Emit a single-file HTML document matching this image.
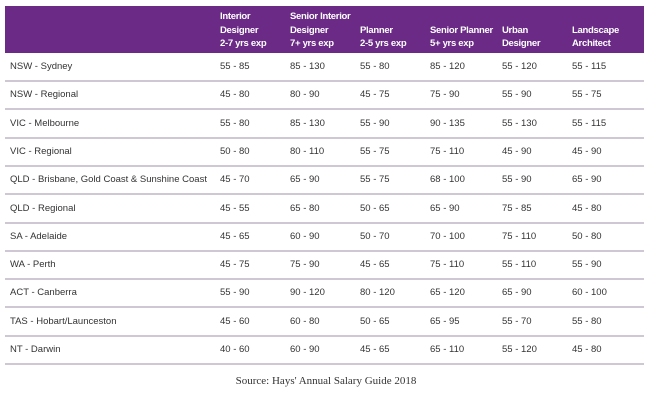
<!DOCTYPE html>
<html><head><meta charset="utf-8"><style>
html,body{margin:0;padding:0;background:#fff;}
body{width:652px;height:401px;position:relative;overflow:hidden;font-family:"Liberation Sans",sans-serif;}
.hdr{position:absolute;left:5px;top:6px;width:639px;height:47px;background:#6a2a86;}
.h{position:absolute;color:#fff;font-weight:bold;font-size:9.5px;line-height:13.5px;letter-spacing:-0.3px;}
.t{position:absolute;color:#333;font-size:9.5px;line-height:12px;}
.sep{position:absolute;left:5px;width:639px;height:2px;background:#cfc8d4;}
.src{position:absolute;left:0;width:652px;top:375px;text-align:center;font-family:"Liberation Serif",serif;font-size:11px;color:#333;}
</style></head><body>
<div class="hdr"></div>
<div class="h" style="left:220px;top:10px">Interior<br>Designer<br>2-7 yrs exp</div>
<div class="h" style="left:290px;top:10px">Senior Interior<br>Designer<br>7+ yrs exp</div>
<div class="h" style="left:360px;top:23.5px">Planner<br>2-5 yrs exp</div>
<div class="h" style="left:430px;top:23.5px">Senior Planner<br>5+ yrs exp</div>
<div class="h" style="left:502px;top:23.5px">Urban<br>Designer</div>
<div class="h" style="left:572px;top:23.5px">Landscape<br>Architect</div>
<div id="rows"></div>
<div class="src">Source: Hays' Annual Salary Guide 2018</div>
<script>
var d=[["NSW - Sydney","55 - 85","85 - 130","55 - 80","85 - 120","55 - 120","55 - 115"],
["NSW - Regional","45 - 80","80 - 90","45 - 75","75 - 90","55 - 90","55 - 75"],
["VIC - Melbourne","55 - 80","85 - 130","55 - 90","90 - 135","55 - 130","55 - 115"],
["VIC - Regional","50 - 80","80 - 110","55 - 75","75 - 110","45 - 90","45 - 90"],
["QLD - Brisbane, Gold Coast & Sunshine Coast","45 - 70","65 - 90","55 - 75","68 - 100","55 - 90","65 - 90"],
["QLD - Regional","45 - 55","65 - 80","50 - 65","65 - 90","75 - 85","45 - 80"],
["SA - Adelaide","45 - 65","60 - 90","50 - 70","70 - 100","75 - 110","50 - 80"],
["WA - Perth","45 - 75","75 - 90","45 - 65","75 - 110","55 - 110","55 - 90"],
["ACT - Canberra","55 - 90","90 - 120","80 - 120","65 - 120","65 - 90","60 - 100"],
["TAS - Hobart/Launceston","45 - 60","60 - 80","50 - 65","65 - 95","55 - 70","55 - 80"],
["NT - Darwin","40 - 60","60 - 90","45 - 65","65 - 110","55 - 120","45 - 80"]];
var xs=[10,220,290,360,430,502,572],h="";
for(var i=0;i<d.length;i++){var y=66+28.3*i;
for(var j=0;j<7;j++)h+='<div class="t" style="left:'+xs[j]+'px;top:'+(y-5)+'px">'+d[i][j].replace("&","&amp;")+'</div>';
h+='<div class="sep" style="top:'+(y+14)+'px"></div>';}
document.getElementById("rows").innerHTML=h;
</script>
</body></html>
